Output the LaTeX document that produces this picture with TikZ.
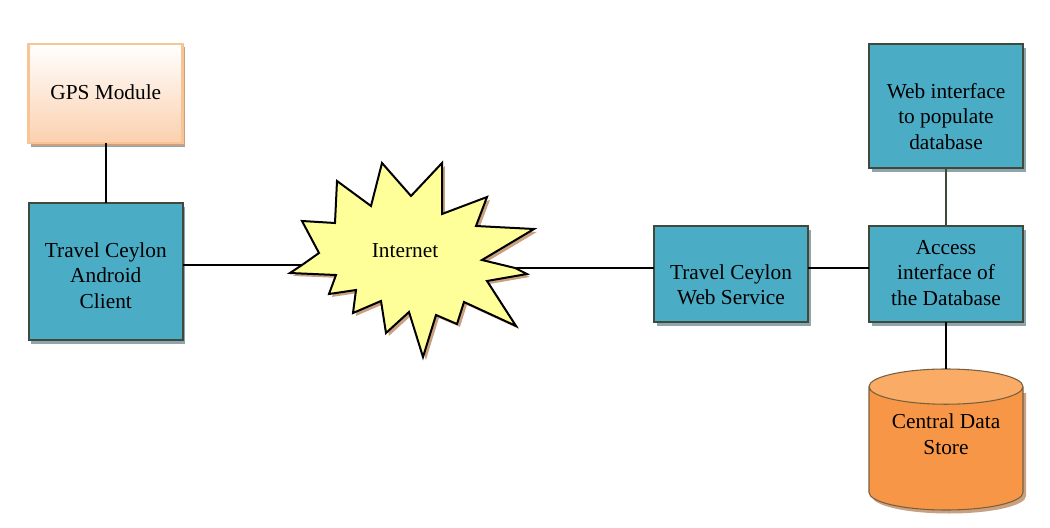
\documentclass[tikz,border=0pt]{standalone}
\usepackage{fontspec}
\setmainfont{Liberation Serif}
\usepackage{xcolor}
\usetikzlibrary{positioning, calc, shapes.geometric, shadows}
\definecolor{travelblue}{HTML}{4BACC6}
\definecolor{traveledge}{HTML}{3F4A3C}
\definecolor{travelpeach}{HTML}{FBD0AE}
\definecolor{travelrim}{HTML}{F9C493}
\definecolor{travelyellow}{HTML}{FFFF99}
\definecolor{travelorange}{HTML}{F79646}
\definecolor{traveltop}{HTML}{FAAB66}
\definecolor{travelshade}{HTML}{8FA5AE}
\definecolor{travelbrown}{HTML}{C9A080}
\tikzset{
  box/.style={draw=traveledge, line width=1.5pt, align=center, outer sep=0pt,
              inner sep=2pt, fill=travelblue, font=\fontsize{16}{19}\selectfont,
              minimum width=115.5pt,
              drop shadow={shadow xshift=1.9pt, shadow yshift=-2.8pt, fill=travelshade, opacity=1}},
  softbox/.style={box, draw=travelrim, line width=2.2pt, top color=white, bottom color=travelpeach,
              drop shadow={shadow xshift=1.9pt, shadow yshift=-2.6pt, fill=travelbrown, opacity=1}},
  burst/.style={draw=black, line width=1.5pt, fill=travelyellow, line join=miter,
              drop shadow={shadow xshift=2.2pt, shadow yshift=-2.2pt, fill=travelbrown, opacity=1}},
  store/.style={shape=cylinder, shape border rotate=90, aspect=0.325, outer sep=0pt, inner sep=0pt,
              minimum width=115.5pt, minimum height=105.75pt, cylinder uses custom fill,
              draw=traveledge!70!travelorange,
              line width=.8pt, cylinder body fill=travelorange,
              cylinder end fill=traveltop, align=center,
              font=\fontsize{16}{19.5}\selectfont},
  storeshade/.style={fill=travelbrown},
  wire/.style={draw=black, line width=1.3pt},
  thinwire/.style={draw=traveledge, line width=.9pt},
}
\begin{document}
\begin{tikzpicture}[x=.75pt, y=-.75pt]
  \useasboundingbox (0,0) rectangle (1050,528);

  \node[softbox, minimum height=74.25pt] (gps) at (105.8,93.5) {GPS Module\rule[-1.5pt]{0pt}{0pt}};
  \node[box, minimum height=102.75pt, below=45pt of gps]
    (client) {\rule{0pt}{17pt}Travel Ceylon\\ Android\\ Client};

  \draw[burst] (290,273) -- (302,265) coordinate (burstw) -- (319,253) -- (302,221) -- (335,223) -- (337,181)
    -- (371,206) -- (382,163) -- (411,196) -- (442,163) -- (442,214) -- (487,197) -- (476,226)
    -- (534,229) -- (482,260) -- (515,268) coordinate (burste) -- (527,274) -- (487,281) -- (516,326)
    -- (464,302) -- (457,324) -- (436,315) -- (423,357) -- (409,312) -- (386,333) -- (381,301)
    -- (353,313) -- (356,290) -- (329,294) -- (336,275) -- cycle;
  \node[font=\fontsize{16}{19}\selectfont] (internet) at (405,251) {Internet};

  \node[box, minimum height=72pt] (service) at (731,274) {\rule{0pt}{27pt}Travel Ceylon\\ Web Service};
  \node[box, minimum height=72pt, right=45.75pt of service]
    (access) {Access\\ interface of\\ the Database\rule[-2pt]{0pt}{0pt}};
  \node[box, minimum height=93pt, above=43.5pt of access]
    (webui) {\rule{0pt}{27pt}Web interface\\ to populate\\ database};
  \fill[storeshade] (872,393) -- (872,496) arc[start angle=180, end angle=0, x radius=77, y radius=17.5]
    -- (1026,393) -- cycle;
  \node[store, below=35.25pt of access] (datastore) {Central Data\\ Store\rule[-21pt]{0pt}{0pt}};

  \draw[wire] (gps) -- (client);
  \draw[wire] (client.east |- burstw) -- (burstw);
  \draw[wire] (burste) -- (burste -| service.west);
  \draw[wire] (service.east |- burste) -- (access.west |- burste);
  \draw[thinwire] (webui) -- (access);
  \draw[wire] (access) -- (datastore);
\end{tikzpicture}
\end{document}
